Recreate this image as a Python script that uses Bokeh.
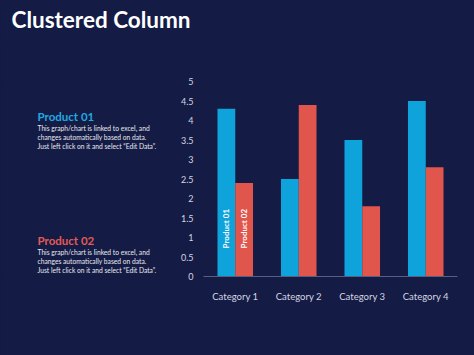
from bokeh.plotting import figure
from bokeh.models import ColumnDataSource, FactorRange, Range1d
from bokeh.layouts import column, row
from bokeh.transform import dodge
from bokeh.embed import file_html
from bokeh.resources import INLINE
from bokeh.core.properties import value

categories = ["Category 1", "Category 2", "Category 3", "Category 4"]
product_01 = [4.3, 2.5, 3.5, 4.5]
product_02 = [2.4, 4.4, 1.8, 2.8]
y_ticks = [0, 0.5, 1, 1.5, 2, 2.5, 3, 3.5, 4, 4.5, 5]
series_names = ["Product 01", "Product 02"]
title_text = "Clustered Column"
body = ["This graph/chart is linked to excel, and",
        "changes automatically based on data.",
        "Just left click on it and select \u201cEdit Data\u201d."]

BG = "#141b45"
BLUE = "#0fa3db"
RED = "#e0554c"

W, H = 474, 355
TOP_H = 45
LEFT_W = 172
FL, FB, FT = 203, 276, 81  # chart frame edges in page pixels


def blank(width, height, yr, **kw):
    f = figure(width=width, height=height, x_range=Range1d(0, width), y_range=yr,
               output_backend="svg", toolbar_location=None, **kw)
    f.axis.visible = False
    f.grid.grid_line_color = None
    f.outline_line_color = None
    f.background_fill_color = BG
    f.border_fill_color = BG
    return f


# --- title strip ---
top = blank(W, TOP_H, Range1d(TOP_H, 0), min_border=0)
top.text(x=[11], y=[19], text=[title_text], text_color="white", text_font=value("Lato"),
         text_font_style="bold", text_font_size="22.5px", text_baseline="middle")

# --- left description panel: frame aligned with chart frame, y in page pixels ---
left = blank(LEFT_W, H - TOP_H, Range1d(FB, FT), min_border_left=0, min_border_right=0,
             min_border_top=FT - TOP_H, min_border_bottom=H - FB)


def block(name, color, cy):
    left.text(x=[37], y=[cy], text=[name], text_color=color, text_font=value("Lato"),
              text_font_style="bold", text_font_size="11.5px", text_baseline="middle")
    left.text(x=[37] * len(body), y=[cy + 11 + 9 * i for i in range(len(body))], text=body,
              text_color="#e8e9ef", text_font=value("Lato"), text_font_size="6.7px",
              text_baseline="middle")


block(series_names[0], "#22a8e0", 116)
block(series_names[1], "#e35a55", 240)

# --- chart ---
src = ColumnDataSource(dict(cat=categories, p1=product_01, p2=product_02))
p = figure(width=W - LEFT_W, height=H - TOP_H,
           x_range=FactorRange(*categories, range_padding=0), y_range=Range1d(0, 5),
           output_backend="svg", toolbar_location=None,
           min_border_left=FL - LEFT_W, min_border_right=17,
           min_border_top=FT - TOP_H, min_border_bottom=H - FB)
p.background_fill_color = BG
p.border_fill_color = BG
p.outline_line_color = None
p.grid.grid_line_color = None

p.vbar(x=dodge("cat", -0.14, range=p.x_range), top="p1", width=0.28, source=src,
       color=BLUE, line_color=None)
p.vbar(x=dodge("cat", 0.14, range=p.x_range), top="p2", width=0.28, source=src,
       color=RED, line_color=None)

p.yaxis.ticker = y_ticks
p.yaxis.axis_line_color = None
p.yaxis.major_tick_line_color = None
p.yaxis.minor_tick_line_color = None
p.yaxis.major_label_text_color = "#d4d6e0"
p.yaxis.major_label_text_font = "Lato"
p.yaxis.major_label_text_font_size = "9px"
p.yaxis.major_label_standoff = 4

p.xaxis.axis_line_color = "#59607f"
p.xaxis.major_tick_line_color = None
p.xaxis.minor_tick_line_color = None
p.xaxis.major_label_text_color = "#d4d6e0"
p.xaxis.major_label_text_font = "Lato"
p.xaxis.major_label_text_font_size = "9.5px"
p.xaxis.major_label_standoff = 8

lab_src = ColumnDataSource(dict(cat=[categories[0]], y=[0.72], t1=[series_names[0]], t2=[series_names[1]]))
for off, col in ((-0.14, "t1"), (0.14, "t2")):
    p.text(x=dodge("cat", off, range=p.x_range), y="y", text=col, source=lab_src, angle=1.5708,
           text_color="white", text_font=value("Lato"), text_font_style="bold",
           text_font_size="8px", text_align="left", text_baseline="middle")

layout = column(top, row(left, p, spacing=0), spacing=0, styles={"background-color": BG})

open("out.html", "w").write(file_html(layout, INLINE))
